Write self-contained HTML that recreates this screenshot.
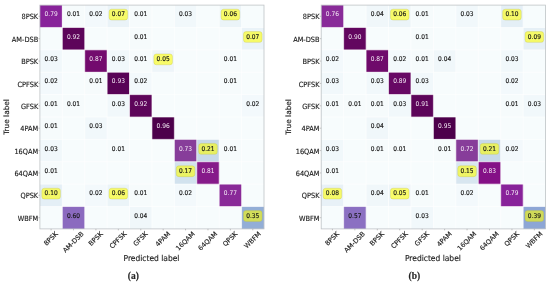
<!DOCTYPE html>
<html><head><meta charset="utf-8"><title>Confusion matrices</title>
<style>html,body{margin:0;padding:0;background:#fff;}body{width:550px;height:284px;overflow:hidden;}svg{display:block;}</style>
</head><body>
<svg width="550" height="284" viewBox="0 0 550 284" font-family="'DejaVu Sans', 'Liberation Sans', sans-serif">
<style>text{stroke-width:0.14px;paint-order:stroke fill}.d{stroke:#1c1c1c}.w{stroke:none}</style>
<rect width="550" height="284" fill="#ffffff"/>
<rect x="39.9" y="5.1" width="224.10" height="223.80" fill="#f7fcfd"/>
<rect x="39.90" y="5.10" width="22.46" height="22.43" fill="#88239a"/>
<rect x="62.31" y="5.10" width="22.46" height="22.43" fill="#f6fbfc"/>
<rect x="84.72" y="5.10" width="22.46" height="22.43" fill="#f3f9fc"/>
<rect x="107.13" y="5.10" width="22.46" height="22.43" fill="#eaf3f8"/>
<rect x="129.54" y="5.10" width="22.46" height="22.43" fill="#f6fbfc"/>
<rect x="174.36" y="5.10" width="22.46" height="22.43" fill="#f1f8fb"/>
<rect x="219.18" y="5.10" width="22.46" height="22.43" fill="#ebf4f8"/>
<rect x="62.31" y="27.48" width="22.46" height="22.43" fill="#5d055a"/>
<rect x="129.54" y="27.48" width="22.46" height="22.43" fill="#f6fbfc"/>
<rect x="241.59" y="27.48" width="22.46" height="22.43" fill="#eaf3f8"/>
<rect x="39.90" y="49.86" width="22.46" height="22.43" fill="#f1f8fb"/>
<rect x="84.72" y="49.86" width="22.46" height="22.43" fill="#730b6e"/>
<rect x="107.13" y="49.86" width="22.46" height="22.43" fill="#f1f8fb"/>
<rect x="129.54" y="49.86" width="22.46" height="22.43" fill="#f6fbfc"/>
<rect x="151.95" y="49.86" width="22.46" height="22.43" fill="#eef5f9"/>
<rect x="219.18" y="49.86" width="22.46" height="22.43" fill="#f6fbfc"/>
<rect x="39.90" y="72.24" width="22.46" height="22.43" fill="#f3f9fc"/>
<rect x="84.72" y="72.24" width="22.46" height="22.43" fill="#f6fbfc"/>
<rect x="107.13" y="72.24" width="22.46" height="22.43" fill="#580356"/>
<rect x="129.54" y="72.24" width="22.46" height="22.43" fill="#f3f9fc"/>
<rect x="219.18" y="72.24" width="22.46" height="22.43" fill="#f6fbfc"/>
<rect x="39.90" y="94.62" width="22.46" height="22.43" fill="#f6fbfc"/>
<rect x="62.31" y="94.62" width="22.46" height="22.43" fill="#f6fbfc"/>
<rect x="107.13" y="94.62" width="22.46" height="22.43" fill="#f1f8fb"/>
<rect x="129.54" y="94.62" width="22.46" height="22.43" fill="#5d055a"/>
<rect x="241.59" y="94.62" width="22.46" height="22.43" fill="#f3f9fc"/>
<rect x="39.90" y="117.00" width="22.46" height="22.43" fill="#f6fbfc"/>
<rect x="84.72" y="117.00" width="22.46" height="22.43" fill="#f1f8fb"/>
<rect x="151.95" y="117.00" width="22.46" height="22.43" fill="#4d004b"/>
<rect x="39.90" y="139.38" width="22.46" height="22.43" fill="#f1f8fb"/>
<rect x="107.13" y="139.38" width="22.46" height="22.43" fill="#f6fbfc"/>
<rect x="174.36" y="139.38" width="22.46" height="22.43" fill="#873d9a"/>
<rect x="196.77" y="139.38" width="22.46" height="22.43" fill="#c7d9e9"/>
<rect x="219.18" y="139.38" width="22.46" height="22.43" fill="#f6fbfc"/>
<rect x="39.90" y="161.76" width="22.46" height="22.43" fill="#f6fbfc"/>
<rect x="174.36" y="161.76" width="22.46" height="22.43" fill="#d2e2ee"/>
<rect x="196.77" y="161.76" width="22.46" height="22.43" fill="#861a8a"/>
<rect x="39.90" y="184.14" width="22.46" height="22.43" fill="#e4eff6"/>
<rect x="84.72" y="184.14" width="22.46" height="22.43" fill="#f3f9fc"/>
<rect x="107.13" y="184.14" width="22.46" height="22.43" fill="#ebf4f8"/>
<rect x="129.54" y="184.14" width="22.46" height="22.43" fill="#f6fbfc"/>
<rect x="174.36" y="184.14" width="22.46" height="22.43" fill="#f3f9fc"/>
<rect x="219.18" y="184.14" width="22.46" height="22.43" fill="#892a98"/>
<rect x="62.31" y="206.52" width="22.46" height="22.43" fill="#8b6abf"/>
<rect x="129.54" y="206.52" width="22.46" height="22.43" fill="#f0f7fa"/>
<rect x="241.59" y="206.52" width="22.46" height="22.43" fill="#93aed6"/>
<line x1="62.31" x2="62.31" y1="5.1" y2="228.9" stroke="#ffffff" stroke-opacity="0.7" stroke-width="0.9"/>
<line y1="27.48" y2="27.48" x1="39.9" x2="264.0" stroke="#ffffff" stroke-opacity="0.7" stroke-width="0.9"/>
<line x1="84.72" x2="84.72" y1="5.1" y2="228.9" stroke="#ffffff" stroke-opacity="0.7" stroke-width="0.9"/>
<line y1="49.86" y2="49.86" x1="39.9" x2="264.0" stroke="#ffffff" stroke-opacity="0.7" stroke-width="0.9"/>
<line x1="107.13" x2="107.13" y1="5.1" y2="228.9" stroke="#ffffff" stroke-opacity="0.7" stroke-width="0.9"/>
<line y1="72.24" y2="72.24" x1="39.9" x2="264.0" stroke="#ffffff" stroke-opacity="0.7" stroke-width="0.9"/>
<line x1="129.54" x2="129.54" y1="5.1" y2="228.9" stroke="#ffffff" stroke-opacity="0.7" stroke-width="0.9"/>
<line y1="94.62" y2="94.62" x1="39.9" x2="264.0" stroke="#ffffff" stroke-opacity="0.7" stroke-width="0.9"/>
<line x1="151.95" x2="151.95" y1="5.1" y2="228.9" stroke="#ffffff" stroke-opacity="0.7" stroke-width="0.9"/>
<line y1="117.00" y2="117.00" x1="39.9" x2="264.0" stroke="#ffffff" stroke-opacity="0.7" stroke-width="0.9"/>
<line x1="174.36" x2="174.36" y1="5.1" y2="228.9" stroke="#ffffff" stroke-opacity="0.7" stroke-width="0.9"/>
<line y1="139.38" y2="139.38" x1="39.9" x2="264.0" stroke="#ffffff" stroke-opacity="0.7" stroke-width="0.9"/>
<line x1="196.77" x2="196.77" y1="5.1" y2="228.9" stroke="#ffffff" stroke-opacity="0.7" stroke-width="0.9"/>
<line y1="161.76" y2="161.76" x1="39.9" x2="264.0" stroke="#ffffff" stroke-opacity="0.7" stroke-width="0.9"/>
<line x1="219.18" x2="219.18" y1="5.1" y2="228.9" stroke="#ffffff" stroke-opacity="0.7" stroke-width="0.9"/>
<line y1="184.14" y2="184.14" x1="39.9" x2="264.0" stroke="#ffffff" stroke-opacity="0.7" stroke-width="0.9"/>
<line x1="241.59" x2="241.59" y1="5.1" y2="228.9" stroke="#ffffff" stroke-opacity="0.7" stroke-width="0.9"/>
<line y1="206.52" y2="206.52" x1="39.9" x2="264.0" stroke="#ffffff" stroke-opacity="0.7" stroke-width="0.9"/>
<rect x="39.9" y="5.1" width="224.10" height="223.80" fill="none" stroke="#bfc3c6" stroke-width="0.8"/>
<text transform="translate(51.10,16.34) scale(1,1.09)" font-size="5.9" text-anchor="middle" fill="#f6eef7" class="w">0.79</text>
<text transform="translate(73.52,16.34) scale(1,1.09)" font-size="5.9" text-anchor="middle" fill="#141414" class="d">0.01</text>
<text transform="translate(95.92,16.34) scale(1,1.09)" font-size="5.9" text-anchor="middle" fill="#141414" class="d">0.02</text>
<rect x="109.04" y="9.19" width="18.6" height="10.8" rx="2.6" fill="#ffff00" fill-opacity="0.58" stroke="#b9b93c" stroke-opacity="0.55" stroke-width="0.5"/>
<text transform="translate(118.34,16.34) scale(1,1.09)" font-size="5.9" text-anchor="middle" fill="#141414" class="d">0.07</text>
<text transform="translate(140.75,16.34) scale(1,1.09)" font-size="5.9" text-anchor="middle" fill="#141414" class="d">0.01</text>
<text transform="translate(185.56,16.34) scale(1,1.09)" font-size="5.9" text-anchor="middle" fill="#141414" class="d">0.03</text>
<rect x="221.09" y="9.19" width="18.6" height="10.8" rx="2.6" fill="#ffff00" fill-opacity="0.58" stroke="#b9b93c" stroke-opacity="0.55" stroke-width="0.5"/>
<text transform="translate(230.39,16.34) scale(1,1.09)" font-size="5.9" text-anchor="middle" fill="#141414" class="d">0.06</text>
<text transform="translate(73.52,38.72) scale(1,1.09)" font-size="5.9" text-anchor="middle" fill="#f6eef7" class="w">0.92</text>
<text transform="translate(140.75,38.72) scale(1,1.09)" font-size="5.9" text-anchor="middle" fill="#141414" class="d">0.01</text>
<rect x="243.50" y="31.57" width="18.6" height="10.8" rx="2.6" fill="#ffff00" fill-opacity="0.58" stroke="#b9b93c" stroke-opacity="0.55" stroke-width="0.5"/>
<text transform="translate(252.80,38.72) scale(1,1.09)" font-size="5.9" text-anchor="middle" fill="#141414" class="d">0.07</text>
<text transform="translate(51.10,61.10) scale(1,1.09)" font-size="5.9" text-anchor="middle" fill="#141414" class="d">0.03</text>
<text transform="translate(95.92,61.10) scale(1,1.09)" font-size="5.9" text-anchor="middle" fill="#f6eef7" class="w">0.87</text>
<text transform="translate(118.34,61.10) scale(1,1.09)" font-size="5.9" text-anchor="middle" fill="#141414" class="d">0.03</text>
<text transform="translate(140.75,61.10) scale(1,1.09)" font-size="5.9" text-anchor="middle" fill="#141414" class="d">0.01</text>
<rect x="153.85" y="53.95" width="18.6" height="10.8" rx="2.6" fill="#ffff00" fill-opacity="0.58" stroke="#b9b93c" stroke-opacity="0.55" stroke-width="0.5"/>
<text transform="translate(163.16,61.10) scale(1,1.09)" font-size="5.9" text-anchor="middle" fill="#141414" class="d">0.05</text>
<text transform="translate(230.39,61.10) scale(1,1.09)" font-size="5.9" text-anchor="middle" fill="#141414" class="d">0.01</text>
<text transform="translate(51.10,83.48) scale(1,1.09)" font-size="5.9" text-anchor="middle" fill="#141414" class="d">0.02</text>
<text transform="translate(95.92,83.48) scale(1,1.09)" font-size="5.9" text-anchor="middle" fill="#141414" class="d">0.01</text>
<text transform="translate(118.34,83.48) scale(1,1.09)" font-size="5.9" text-anchor="middle" fill="#f6eef7" class="w">0.93</text>
<text transform="translate(140.75,83.48) scale(1,1.09)" font-size="5.9" text-anchor="middle" fill="#141414" class="d">0.02</text>
<text transform="translate(230.39,83.48) scale(1,1.09)" font-size="5.9" text-anchor="middle" fill="#141414" class="d">0.01</text>
<text transform="translate(51.10,105.86) scale(1,1.09)" font-size="5.9" text-anchor="middle" fill="#141414" class="d">0.01</text>
<text transform="translate(73.52,105.86) scale(1,1.09)" font-size="5.9" text-anchor="middle" fill="#141414" class="d">0.01</text>
<text transform="translate(118.34,105.86) scale(1,1.09)" font-size="5.9" text-anchor="middle" fill="#141414" class="d">0.03</text>
<text transform="translate(140.75,105.86) scale(1,1.09)" font-size="5.9" text-anchor="middle" fill="#f6eef7" class="w">0.92</text>
<text transform="translate(252.80,105.86) scale(1,1.09)" font-size="5.9" text-anchor="middle" fill="#141414" class="d">0.02</text>
<text transform="translate(51.10,128.24) scale(1,1.09)" font-size="5.9" text-anchor="middle" fill="#141414" class="d">0.01</text>
<text transform="translate(95.92,128.24) scale(1,1.09)" font-size="5.9" text-anchor="middle" fill="#141414" class="d">0.03</text>
<text transform="translate(163.16,128.24) scale(1,1.09)" font-size="5.9" text-anchor="middle" fill="#f6eef7" class="w">0.96</text>
<text transform="translate(51.10,150.62) scale(1,1.09)" font-size="5.9" text-anchor="middle" fill="#141414" class="d">0.03</text>
<text transform="translate(118.34,150.62) scale(1,1.09)" font-size="5.9" text-anchor="middle" fill="#141414" class="d">0.01</text>
<text transform="translate(185.56,150.62) scale(1,1.09)" font-size="5.9" text-anchor="middle" fill="#f6eef7" class="w">0.73</text>
<rect x="198.67" y="143.47" width="18.6" height="10.8" rx="2.6" fill="#ffff00" fill-opacity="0.58" stroke="#b9b93c" stroke-opacity="0.55" stroke-width="0.5"/>
<text transform="translate(207.97,150.62) scale(1,1.09)" font-size="5.9" text-anchor="middle" fill="#141414" class="d">0.21</text>
<text transform="translate(230.39,150.62) scale(1,1.09)" font-size="5.9" text-anchor="middle" fill="#141414" class="d">0.01</text>
<text transform="translate(51.10,173.00) scale(1,1.09)" font-size="5.9" text-anchor="middle" fill="#141414" class="d">0.01</text>
<rect x="176.26" y="165.85" width="18.6" height="10.8" rx="2.6" fill="#ffff00" fill-opacity="0.58" stroke="#b9b93c" stroke-opacity="0.55" stroke-width="0.5"/>
<text transform="translate(185.56,173.00) scale(1,1.09)" font-size="5.9" text-anchor="middle" fill="#141414" class="d">0.17</text>
<text transform="translate(207.97,173.00) scale(1,1.09)" font-size="5.9" text-anchor="middle" fill="#f6eef7" class="w">0.81</text>
<rect x="41.80" y="188.23" width="18.6" height="10.8" rx="2.6" fill="#ffff00" fill-opacity="0.58" stroke="#b9b93c" stroke-opacity="0.55" stroke-width="0.5"/>
<text transform="translate(51.10,195.38) scale(1,1.09)" font-size="5.9" text-anchor="middle" fill="#141414" class="d">0.10</text>
<text transform="translate(95.92,195.38) scale(1,1.09)" font-size="5.9" text-anchor="middle" fill="#141414" class="d">0.02</text>
<rect x="109.04" y="188.23" width="18.6" height="10.8" rx="2.6" fill="#ffff00" fill-opacity="0.58" stroke="#b9b93c" stroke-opacity="0.55" stroke-width="0.5"/>
<text transform="translate(118.34,195.38) scale(1,1.09)" font-size="5.9" text-anchor="middle" fill="#141414" class="d">0.06</text>
<text transform="translate(140.75,195.38) scale(1,1.09)" font-size="5.9" text-anchor="middle" fill="#141414" class="d">0.01</text>
<text transform="translate(185.56,195.38) scale(1,1.09)" font-size="5.9" text-anchor="middle" fill="#141414" class="d">0.02</text>
<text transform="translate(230.39,195.38) scale(1,1.09)" font-size="5.9" text-anchor="middle" fill="#f6eef7" class="w">0.77</text>
<text transform="translate(73.52,217.76) scale(1,1.09)" font-size="5.9" text-anchor="middle" fill="#141414" class="d">0.60</text>
<text transform="translate(140.75,217.76) scale(1,1.09)" font-size="5.9" text-anchor="middle" fill="#141414" class="d">0.04</text>
<rect x="243.50" y="210.61" width="18.6" height="10.8" rx="2.6" fill="#ffff00" fill-opacity="0.58" stroke="#b9b93c" stroke-opacity="0.55" stroke-width="0.5"/>
<text transform="translate(252.80,217.76) scale(1,1.09)" font-size="5.9" text-anchor="middle" fill="#141414" class="d">0.35</text>
<line x1="38.40" x2="39.90" y1="16.29" y2="16.29" stroke="#777" stroke-width="0.4"/>
<text transform="translate(38.20,19.42) scale(1,1.09)" font-size="6.6" text-anchor="end" fill="#1c1c1c" class="d">8PSK</text>
<line x1="38.40" x2="39.90" y1="38.67" y2="38.67" stroke="#777" stroke-width="0.4"/>
<text transform="translate(38.20,41.80) scale(1,1.09)" font-size="6.6" text-anchor="end" fill="#1c1c1c" class="d">AM-DSB</text>
<line x1="38.40" x2="39.90" y1="61.05" y2="61.05" stroke="#777" stroke-width="0.4"/>
<text transform="translate(38.20,64.18) scale(1,1.09)" font-size="6.6" text-anchor="end" fill="#1c1c1c" class="d">BPSK</text>
<line x1="38.40" x2="39.90" y1="83.43" y2="83.43" stroke="#777" stroke-width="0.4"/>
<text transform="translate(38.20,86.56) scale(1,1.09)" font-size="6.6" text-anchor="end" fill="#1c1c1c" class="d">CPFSK</text>
<line x1="38.40" x2="39.90" y1="105.81" y2="105.81" stroke="#777" stroke-width="0.4"/>
<text transform="translate(38.20,108.94) scale(1,1.09)" font-size="6.6" text-anchor="end" fill="#1c1c1c" class="d">GFSK</text>
<line x1="38.40" x2="39.90" y1="128.19" y2="128.19" stroke="#777" stroke-width="0.4"/>
<text transform="translate(38.20,131.32) scale(1,1.09)" font-size="6.6" text-anchor="end" fill="#1c1c1c" class="d">4PAM</text>
<line x1="38.40" x2="39.90" y1="150.57" y2="150.57" stroke="#777" stroke-width="0.4"/>
<text transform="translate(38.20,153.70) scale(1,1.09)" font-size="6.6" text-anchor="end" fill="#1c1c1c" class="d">16QAM</text>
<line x1="38.40" x2="39.90" y1="172.95" y2="172.95" stroke="#777" stroke-width="0.4"/>
<text transform="translate(38.20,176.08) scale(1,1.09)" font-size="6.6" text-anchor="end" fill="#1c1c1c" class="d">64QAM</text>
<line x1="38.40" x2="39.90" y1="195.33" y2="195.33" stroke="#777" stroke-width="0.4"/>
<text transform="translate(38.20,198.46) scale(1,1.09)" font-size="6.6" text-anchor="end" fill="#1c1c1c" class="d">QPSK</text>
<line x1="38.40" x2="39.90" y1="217.71" y2="217.71" stroke="#777" stroke-width="0.4"/>
<text transform="translate(38.20,220.84) scale(1,1.09)" font-size="6.6" text-anchor="end" fill="#1c1c1c" class="d">WBFM</text>
<line x1="51.10" x2="51.10" y1="228.9" y2="230.4" stroke="#777" stroke-width="0.4"/>
<text transform="translate(51.10,238.86) rotate(-45)" x="0" y="1.82" font-size="6.6" text-anchor="middle" fill="#1c1c1c" class="d">8PSK</text>
<line x1="73.52" x2="73.52" y1="228.9" y2="230.4" stroke="#777" stroke-width="0.4"/>
<text transform="translate(73.52,242.29) rotate(-45)" x="0" y="1.82" font-size="6.6" text-anchor="middle" fill="#1c1c1c" class="d">AM-DSB</text>
<line x1="95.92" x2="95.92" y1="228.9" y2="230.4" stroke="#777" stroke-width="0.4"/>
<text transform="translate(95.92,238.98) rotate(-45)" x="0" y="1.82" font-size="6.6" text-anchor="middle" fill="#1c1c1c" class="d">BPSK</text>
<line x1="118.34" x2="118.34" y1="228.9" y2="230.4" stroke="#777" stroke-width="0.4"/>
<text transform="translate(118.34,240.31) rotate(-45)" x="0" y="1.82" font-size="6.6" text-anchor="middle" fill="#1c1c1c" class="d">CPFSK</text>
<line x1="140.75" x2="140.75" y1="228.9" y2="230.4" stroke="#777" stroke-width="0.4"/>
<text transform="translate(140.75,239.08) rotate(-45)" x="0" y="1.82" font-size="6.6" text-anchor="middle" fill="#1c1c1c" class="d">GFSK</text>
<line x1="163.16" x2="163.16" y1="228.9" y2="230.4" stroke="#777" stroke-width="0.4"/>
<text transform="translate(163.16,239.31) rotate(-45)" x="0" y="1.82" font-size="6.6" text-anchor="middle" fill="#1c1c1c" class="d">4PAM</text>
<line x1="185.56" x2="185.56" y1="228.9" y2="230.4" stroke="#777" stroke-width="0.4"/>
<text transform="translate(185.56,241.37) rotate(-45)" x="0" y="1.82" font-size="6.6" text-anchor="middle" fill="#1c1c1c" class="d">16QAM</text>
<line x1="207.97" x2="207.97" y1="228.9" y2="230.4" stroke="#777" stroke-width="0.4"/>
<text transform="translate(207.97,241.37) rotate(-45)" x="0" y="1.82" font-size="6.6" text-anchor="middle" fill="#1c1c1c" class="d">64QAM</text>
<line x1="230.39" x2="230.39" y1="228.9" y2="230.4" stroke="#777" stroke-width="0.4"/>
<text transform="translate(230.39,239.21) rotate(-45)" x="0" y="1.82" font-size="6.6" text-anchor="middle" fill="#1c1c1c" class="d">QPSK</text>
<line x1="252.80" x2="252.80" y1="228.9" y2="230.4" stroke="#777" stroke-width="0.4"/>
<text transform="translate(252.80,240.22) rotate(-45)" x="0" y="1.82" font-size="6.6" text-anchor="middle" fill="#1c1c1c" class="d">WBFM</text>
<text transform="translate(151.45,261.0) scale(1,1.09)" font-size="7.55" text-anchor="middle" fill="#1c1c1c" class="d">Predicted label</text>
<text transform="translate(9.30,117.00) rotate(-90)" font-size="7.35" text-anchor="middle" fill="#1c1c1c" class="d">True label</text>
<text x="133.3" y="278.9" font-size="9.5" font-weight="bold" text-anchor="middle" fill="#222" class="d" font-family="'Liberation Serif', serif">(a)</text>
<rect x="321.2" y="5.1" width="224.40" height="223.80" fill="#f7fcfd"/>
<rect x="321.20" y="5.10" width="22.49" height="22.43" fill="#892b99"/>
<rect x="366.08" y="5.10" width="22.49" height="22.43" fill="#f0f7fa"/>
<rect x="388.52" y="5.10" width="22.49" height="22.43" fill="#ebf4f8"/>
<rect x="410.96" y="5.10" width="22.49" height="22.43" fill="#f6fbfc"/>
<rect x="455.84" y="5.10" width="22.49" height="22.43" fill="#f1f8fb"/>
<rect x="500.72" y="5.10" width="22.49" height="22.43" fill="#e4eff6"/>
<rect x="343.64" y="27.48" width="22.49" height="22.43" fill="#62065f"/>
<rect x="410.96" y="27.48" width="22.49" height="22.43" fill="#f6fbfc"/>
<rect x="523.16" y="27.48" width="22.49" height="22.43" fill="#e6f0f6"/>
<rect x="321.20" y="49.86" width="22.49" height="22.43" fill="#f3f9fc"/>
<rect x="366.08" y="49.86" width="22.49" height="22.43" fill="#6f0a6b"/>
<rect x="388.52" y="49.86" width="22.49" height="22.43" fill="#f3f9fc"/>
<rect x="410.96" y="49.86" width="22.49" height="22.43" fill="#f6fbfc"/>
<rect x="433.40" y="49.86" width="22.49" height="22.43" fill="#f0f7fa"/>
<rect x="500.72" y="49.86" width="22.49" height="22.43" fill="#f1f8fb"/>
<rect x="321.20" y="72.24" width="22.49" height="22.43" fill="#f1f8fb"/>
<rect x="366.08" y="72.24" width="22.49" height="22.43" fill="#f1f8fb"/>
<rect x="388.52" y="72.24" width="22.49" height="22.43" fill="#670864"/>
<rect x="410.96" y="72.24" width="22.49" height="22.43" fill="#f1f8fb"/>
<rect x="500.72" y="72.24" width="22.49" height="22.43" fill="#f3f9fc"/>
<rect x="321.20" y="94.62" width="22.49" height="22.43" fill="#f6fbfc"/>
<rect x="343.64" y="94.62" width="22.49" height="22.43" fill="#f6fbfc"/>
<rect x="366.08" y="94.62" width="22.49" height="22.43" fill="#f6fbfc"/>
<rect x="388.52" y="94.62" width="22.49" height="22.43" fill="#f1f8fb"/>
<rect x="410.96" y="94.62" width="22.49" height="22.43" fill="#5d055a"/>
<rect x="500.72" y="94.62" width="22.49" height="22.43" fill="#f6fbfc"/>
<rect x="523.16" y="94.62" width="22.49" height="22.43" fill="#f1f8fb"/>
<rect x="366.08" y="117.00" width="22.49" height="22.43" fill="#f0f7fa"/>
<rect x="433.40" y="117.00" width="22.49" height="22.43" fill="#4d004b"/>
<rect x="321.20" y="139.38" width="22.49" height="22.43" fill="#f1f8fb"/>
<rect x="366.08" y="139.38" width="22.49" height="22.43" fill="#f6fbfc"/>
<rect x="388.52" y="139.38" width="22.49" height="22.43" fill="#f6fbfc"/>
<rect x="433.40" y="139.38" width="22.49" height="22.43" fill="#f6fbfc"/>
<rect x="455.84" y="139.38" width="22.49" height="22.43" fill="#873d9a"/>
<rect x="478.28" y="139.38" width="22.49" height="22.43" fill="#c7d9e9"/>
<rect x="500.72" y="139.38" width="22.49" height="22.43" fill="#f3f9fc"/>
<rect x="321.20" y="161.76" width="22.49" height="22.43" fill="#f6fbfc"/>
<rect x="455.84" y="161.76" width="22.49" height="22.43" fill="#d8e6f0"/>
<rect x="478.28" y="161.76" width="22.49" height="22.43" fill="#841086"/>
<rect x="321.20" y="184.14" width="22.49" height="22.43" fill="#e8f1f7"/>
<rect x="366.08" y="184.14" width="22.49" height="22.43" fill="#f0f7fa"/>
<rect x="388.52" y="184.14" width="22.49" height="22.43" fill="#eef5f9"/>
<rect x="410.96" y="184.14" width="22.49" height="22.43" fill="#f6fbfc"/>
<rect x="455.84" y="184.14" width="22.49" height="22.43" fill="#f3f9fc"/>
<rect x="500.72" y="184.14" width="22.49" height="22.43" fill="#88239a"/>
<rect x="343.64" y="206.52" width="22.49" height="22.43" fill="#8b70c2"/>
<rect x="410.96" y="206.52" width="22.49" height="22.43" fill="#f1f8fb"/>
<rect x="523.16" y="206.52" width="22.49" height="22.43" fill="#8da6d5"/>
<line x1="343.64" x2="343.64" y1="5.1" y2="228.9" stroke="#ffffff" stroke-opacity="0.7" stroke-width="0.9"/>
<line y1="27.48" y2="27.48" x1="321.2" x2="545.6" stroke="#ffffff" stroke-opacity="0.7" stroke-width="0.9"/>
<line x1="366.08" x2="366.08" y1="5.1" y2="228.9" stroke="#ffffff" stroke-opacity="0.7" stroke-width="0.9"/>
<line y1="49.86" y2="49.86" x1="321.2" x2="545.6" stroke="#ffffff" stroke-opacity="0.7" stroke-width="0.9"/>
<line x1="388.52" x2="388.52" y1="5.1" y2="228.9" stroke="#ffffff" stroke-opacity="0.7" stroke-width="0.9"/>
<line y1="72.24" y2="72.24" x1="321.2" x2="545.6" stroke="#ffffff" stroke-opacity="0.7" stroke-width="0.9"/>
<line x1="410.96" x2="410.96" y1="5.1" y2="228.9" stroke="#ffffff" stroke-opacity="0.7" stroke-width="0.9"/>
<line y1="94.62" y2="94.62" x1="321.2" x2="545.6" stroke="#ffffff" stroke-opacity="0.7" stroke-width="0.9"/>
<line x1="433.40" x2="433.40" y1="5.1" y2="228.9" stroke="#ffffff" stroke-opacity="0.7" stroke-width="0.9"/>
<line y1="117.00" y2="117.00" x1="321.2" x2="545.6" stroke="#ffffff" stroke-opacity="0.7" stroke-width="0.9"/>
<line x1="455.84" x2="455.84" y1="5.1" y2="228.9" stroke="#ffffff" stroke-opacity="0.7" stroke-width="0.9"/>
<line y1="139.38" y2="139.38" x1="321.2" x2="545.6" stroke="#ffffff" stroke-opacity="0.7" stroke-width="0.9"/>
<line x1="478.28" x2="478.28" y1="5.1" y2="228.9" stroke="#ffffff" stroke-opacity="0.7" stroke-width="0.9"/>
<line y1="161.76" y2="161.76" x1="321.2" x2="545.6" stroke="#ffffff" stroke-opacity="0.7" stroke-width="0.9"/>
<line x1="500.72" x2="500.72" y1="5.1" y2="228.9" stroke="#ffffff" stroke-opacity="0.7" stroke-width="0.9"/>
<line y1="184.14" y2="184.14" x1="321.2" x2="545.6" stroke="#ffffff" stroke-opacity="0.7" stroke-width="0.9"/>
<line x1="523.16" x2="523.16" y1="5.1" y2="228.9" stroke="#ffffff" stroke-opacity="0.7" stroke-width="0.9"/>
<line y1="206.52" y2="206.52" x1="321.2" x2="545.6" stroke="#ffffff" stroke-opacity="0.7" stroke-width="0.9"/>
<rect x="321.2" y="5.1" width="224.40" height="223.80" fill="none" stroke="#bfc3c6" stroke-width="0.8"/>
<text transform="translate(332.42,16.34) scale(1,1.09)" font-size="5.9" text-anchor="middle" fill="#f6eef7" class="w">0.76</text>
<text transform="translate(377.30,16.34) scale(1,1.09)" font-size="5.9" text-anchor="middle" fill="#141414" class="d">0.04</text>
<rect x="390.44" y="9.19" width="18.6" height="10.8" rx="2.6" fill="#ffff00" fill-opacity="0.58" stroke="#b9b93c" stroke-opacity="0.55" stroke-width="0.5"/>
<text transform="translate(399.74,16.34) scale(1,1.09)" font-size="5.9" text-anchor="middle" fill="#141414" class="d">0.06</text>
<text transform="translate(422.18,16.34) scale(1,1.09)" font-size="5.9" text-anchor="middle" fill="#141414" class="d">0.01</text>
<text transform="translate(467.06,16.34) scale(1,1.09)" font-size="5.9" text-anchor="middle" fill="#141414" class="d">0.03</text>
<rect x="502.64" y="9.19" width="18.6" height="10.8" rx="2.6" fill="#ffff00" fill-opacity="0.58" stroke="#b9b93c" stroke-opacity="0.55" stroke-width="0.5"/>
<text transform="translate(511.94,16.34) scale(1,1.09)" font-size="5.9" text-anchor="middle" fill="#141414" class="d">0.10</text>
<text transform="translate(354.86,38.72) scale(1,1.09)" font-size="5.9" text-anchor="middle" fill="#f6eef7" class="w">0.90</text>
<text transform="translate(422.18,38.72) scale(1,1.09)" font-size="5.9" text-anchor="middle" fill="#141414" class="d">0.01</text>
<rect x="525.08" y="31.57" width="18.6" height="10.8" rx="2.6" fill="#ffff00" fill-opacity="0.58" stroke="#b9b93c" stroke-opacity="0.55" stroke-width="0.5"/>
<text transform="translate(534.38,38.72) scale(1,1.09)" font-size="5.9" text-anchor="middle" fill="#141414" class="d">0.09</text>
<text transform="translate(332.42,61.10) scale(1,1.09)" font-size="5.9" text-anchor="middle" fill="#141414" class="d">0.02</text>
<text transform="translate(377.30,61.10) scale(1,1.09)" font-size="5.9" text-anchor="middle" fill="#f6eef7" class="w">0.87</text>
<text transform="translate(399.74,61.10) scale(1,1.09)" font-size="5.9" text-anchor="middle" fill="#141414" class="d">0.02</text>
<text transform="translate(422.18,61.10) scale(1,1.09)" font-size="5.9" text-anchor="middle" fill="#141414" class="d">0.01</text>
<text transform="translate(444.62,61.10) scale(1,1.09)" font-size="5.9" text-anchor="middle" fill="#141414" class="d">0.04</text>
<text transform="translate(511.94,61.10) scale(1,1.09)" font-size="5.9" text-anchor="middle" fill="#141414" class="d">0.03</text>
<text transform="translate(332.42,83.48) scale(1,1.09)" font-size="5.9" text-anchor="middle" fill="#141414" class="d">0.03</text>
<text transform="translate(377.30,83.48) scale(1,1.09)" font-size="5.9" text-anchor="middle" fill="#141414" class="d">0.03</text>
<text transform="translate(399.74,83.48) scale(1,1.09)" font-size="5.9" text-anchor="middle" fill="#f6eef7" class="w">0.89</text>
<text transform="translate(422.18,83.48) scale(1,1.09)" font-size="5.9" text-anchor="middle" fill="#141414" class="d">0.03</text>
<text transform="translate(511.94,83.48) scale(1,1.09)" font-size="5.9" text-anchor="middle" fill="#141414" class="d">0.02</text>
<text transform="translate(332.42,105.86) scale(1,1.09)" font-size="5.9" text-anchor="middle" fill="#141414" class="d">0.01</text>
<text transform="translate(354.86,105.86) scale(1,1.09)" font-size="5.9" text-anchor="middle" fill="#141414" class="d">0.01</text>
<text transform="translate(377.30,105.86) scale(1,1.09)" font-size="5.9" text-anchor="middle" fill="#141414" class="d">0.01</text>
<text transform="translate(399.74,105.86) scale(1,1.09)" font-size="5.9" text-anchor="middle" fill="#141414" class="d">0.03</text>
<text transform="translate(422.18,105.86) scale(1,1.09)" font-size="5.9" text-anchor="middle" fill="#f6eef7" class="w">0.91</text>
<text transform="translate(511.94,105.86) scale(1,1.09)" font-size="5.9" text-anchor="middle" fill="#141414" class="d">0.01</text>
<text transform="translate(534.38,105.86) scale(1,1.09)" font-size="5.9" text-anchor="middle" fill="#141414" class="d">0.03</text>
<text transform="translate(377.30,128.24) scale(1,1.09)" font-size="5.9" text-anchor="middle" fill="#141414" class="d">0.04</text>
<text transform="translate(444.62,128.24) scale(1,1.09)" font-size="5.9" text-anchor="middle" fill="#f6eef7" class="w">0.95</text>
<text transform="translate(332.42,150.62) scale(1,1.09)" font-size="5.9" text-anchor="middle" fill="#141414" class="d">0.03</text>
<text transform="translate(377.30,150.62) scale(1,1.09)" font-size="5.9" text-anchor="middle" fill="#141414" class="d">0.01</text>
<text transform="translate(399.74,150.62) scale(1,1.09)" font-size="5.9" text-anchor="middle" fill="#141414" class="d">0.01</text>
<text transform="translate(444.62,150.62) scale(1,1.09)" font-size="5.9" text-anchor="middle" fill="#141414" class="d">0.01</text>
<text transform="translate(467.06,150.62) scale(1,1.09)" font-size="5.9" text-anchor="middle" fill="#f6eef7" class="w">0.72</text>
<rect x="480.20" y="143.47" width="18.6" height="10.8" rx="2.6" fill="#ffff00" fill-opacity="0.58" stroke="#b9b93c" stroke-opacity="0.55" stroke-width="0.5"/>
<text transform="translate(489.50,150.62) scale(1,1.09)" font-size="5.9" text-anchor="middle" fill="#141414" class="d">0.21</text>
<text transform="translate(511.94,150.62) scale(1,1.09)" font-size="5.9" text-anchor="middle" fill="#141414" class="d">0.02</text>
<text transform="translate(332.42,173.00) scale(1,1.09)" font-size="5.9" text-anchor="middle" fill="#141414" class="d">0.01</text>
<rect x="457.76" y="165.85" width="18.6" height="10.8" rx="2.6" fill="#ffff00" fill-opacity="0.58" stroke="#b9b93c" stroke-opacity="0.55" stroke-width="0.5"/>
<text transform="translate(467.06,173.00) scale(1,1.09)" font-size="5.9" text-anchor="middle" fill="#141414" class="d">0.15</text>
<text transform="translate(489.50,173.00) scale(1,1.09)" font-size="5.9" text-anchor="middle" fill="#f6eef7" class="w">0.83</text>
<rect x="323.12" y="188.23" width="18.6" height="10.8" rx="2.6" fill="#ffff00" fill-opacity="0.58" stroke="#b9b93c" stroke-opacity="0.55" stroke-width="0.5"/>
<text transform="translate(332.42,195.38) scale(1,1.09)" font-size="5.9" text-anchor="middle" fill="#141414" class="d">0.08</text>
<text transform="translate(377.30,195.38) scale(1,1.09)" font-size="5.9" text-anchor="middle" fill="#141414" class="d">0.04</text>
<rect x="390.44" y="188.23" width="18.6" height="10.8" rx="2.6" fill="#ffff00" fill-opacity="0.58" stroke="#b9b93c" stroke-opacity="0.55" stroke-width="0.5"/>
<text transform="translate(399.74,195.38) scale(1,1.09)" font-size="5.9" text-anchor="middle" fill="#141414" class="d">0.05</text>
<text transform="translate(422.18,195.38) scale(1,1.09)" font-size="5.9" text-anchor="middle" fill="#141414" class="d">0.01</text>
<text transform="translate(467.06,195.38) scale(1,1.09)" font-size="5.9" text-anchor="middle" fill="#141414" class="d">0.02</text>
<text transform="translate(511.94,195.38) scale(1,1.09)" font-size="5.9" text-anchor="middle" fill="#f6eef7" class="w">0.79</text>
<text transform="translate(354.86,217.76) scale(1,1.09)" font-size="5.9" text-anchor="middle" fill="#141414" class="d">0.57</text>
<text transform="translate(422.18,217.76) scale(1,1.09)" font-size="5.9" text-anchor="middle" fill="#141414" class="d">0.03</text>
<rect x="525.08" y="210.61" width="18.6" height="10.8" rx="2.6" fill="#ffff00" fill-opacity="0.58" stroke="#b9b93c" stroke-opacity="0.55" stroke-width="0.5"/>
<text transform="translate(534.38,217.76) scale(1,1.09)" font-size="5.9" text-anchor="middle" fill="#141414" class="d">0.39</text>
<line x1="319.70" x2="321.20" y1="16.29" y2="16.29" stroke="#777" stroke-width="0.4"/>
<text transform="translate(319.50,19.42) scale(1,1.09)" font-size="6.6" text-anchor="end" fill="#1c1c1c" class="d">8PSK</text>
<line x1="319.70" x2="321.20" y1="38.67" y2="38.67" stroke="#777" stroke-width="0.4"/>
<text transform="translate(319.50,41.80) scale(1,1.09)" font-size="6.6" text-anchor="end" fill="#1c1c1c" class="d">AM-DSB</text>
<line x1="319.70" x2="321.20" y1="61.05" y2="61.05" stroke="#777" stroke-width="0.4"/>
<text transform="translate(319.50,64.18) scale(1,1.09)" font-size="6.6" text-anchor="end" fill="#1c1c1c" class="d">BPSK</text>
<line x1="319.70" x2="321.20" y1="83.43" y2="83.43" stroke="#777" stroke-width="0.4"/>
<text transform="translate(319.50,86.56) scale(1,1.09)" font-size="6.6" text-anchor="end" fill="#1c1c1c" class="d">CPFSK</text>
<line x1="319.70" x2="321.20" y1="105.81" y2="105.81" stroke="#777" stroke-width="0.4"/>
<text transform="translate(319.50,108.94) scale(1,1.09)" font-size="6.6" text-anchor="end" fill="#1c1c1c" class="d">GFSK</text>
<line x1="319.70" x2="321.20" y1="128.19" y2="128.19" stroke="#777" stroke-width="0.4"/>
<text transform="translate(319.50,131.32) scale(1,1.09)" font-size="6.6" text-anchor="end" fill="#1c1c1c" class="d">4PAM</text>
<line x1="319.70" x2="321.20" y1="150.57" y2="150.57" stroke="#777" stroke-width="0.4"/>
<text transform="translate(319.50,153.70) scale(1,1.09)" font-size="6.6" text-anchor="end" fill="#1c1c1c" class="d">16QAM</text>
<line x1="319.70" x2="321.20" y1="172.95" y2="172.95" stroke="#777" stroke-width="0.4"/>
<text transform="translate(319.50,176.08) scale(1,1.09)" font-size="6.6" text-anchor="end" fill="#1c1c1c" class="d">64QAM</text>
<line x1="319.70" x2="321.20" y1="195.33" y2="195.33" stroke="#777" stroke-width="0.4"/>
<text transform="translate(319.50,198.46) scale(1,1.09)" font-size="6.6" text-anchor="end" fill="#1c1c1c" class="d">QPSK</text>
<line x1="319.70" x2="321.20" y1="217.71" y2="217.71" stroke="#777" stroke-width="0.4"/>
<text transform="translate(319.50,220.84) scale(1,1.09)" font-size="6.6" text-anchor="end" fill="#1c1c1c" class="d">WBFM</text>
<line x1="332.42" x2="332.42" y1="228.9" y2="230.4" stroke="#777" stroke-width="0.4"/>
<text transform="translate(332.42,238.86) rotate(-45)" x="0" y="1.82" font-size="6.6" text-anchor="middle" fill="#1c1c1c" class="d">8PSK</text>
<line x1="354.86" x2="354.86" y1="228.9" y2="230.4" stroke="#777" stroke-width="0.4"/>
<text transform="translate(354.86,242.29) rotate(-45)" x="0" y="1.82" font-size="6.6" text-anchor="middle" fill="#1c1c1c" class="d">AM-DSB</text>
<line x1="377.30" x2="377.30" y1="228.9" y2="230.4" stroke="#777" stroke-width="0.4"/>
<text transform="translate(377.30,238.98) rotate(-45)" x="0" y="1.82" font-size="6.6" text-anchor="middle" fill="#1c1c1c" class="d">BPSK</text>
<line x1="399.74" x2="399.74" y1="228.9" y2="230.4" stroke="#777" stroke-width="0.4"/>
<text transform="translate(399.74,240.31) rotate(-45)" x="0" y="1.82" font-size="6.6" text-anchor="middle" fill="#1c1c1c" class="d">CPFSK</text>
<line x1="422.18" x2="422.18" y1="228.9" y2="230.4" stroke="#777" stroke-width="0.4"/>
<text transform="translate(422.18,239.08) rotate(-45)" x="0" y="1.82" font-size="6.6" text-anchor="middle" fill="#1c1c1c" class="d">GFSK</text>
<line x1="444.62" x2="444.62" y1="228.9" y2="230.4" stroke="#777" stroke-width="0.4"/>
<text transform="translate(444.62,239.31) rotate(-45)" x="0" y="1.82" font-size="6.6" text-anchor="middle" fill="#1c1c1c" class="d">4PAM</text>
<line x1="467.06" x2="467.06" y1="228.9" y2="230.4" stroke="#777" stroke-width="0.4"/>
<text transform="translate(467.06,241.37) rotate(-45)" x="0" y="1.82" font-size="6.6" text-anchor="middle" fill="#1c1c1c" class="d">16QAM</text>
<line x1="489.50" x2="489.50" y1="228.9" y2="230.4" stroke="#777" stroke-width="0.4"/>
<text transform="translate(489.50,241.37) rotate(-45)" x="0" y="1.82" font-size="6.6" text-anchor="middle" fill="#1c1c1c" class="d">64QAM</text>
<line x1="511.94" x2="511.94" y1="228.9" y2="230.4" stroke="#777" stroke-width="0.4"/>
<text transform="translate(511.94,239.21) rotate(-45)" x="0" y="1.82" font-size="6.6" text-anchor="middle" fill="#1c1c1c" class="d">QPSK</text>
<line x1="534.38" x2="534.38" y1="228.9" y2="230.4" stroke="#777" stroke-width="0.4"/>
<text transform="translate(534.38,240.22) rotate(-45)" x="0" y="1.82" font-size="6.6" text-anchor="middle" fill="#1c1c1c" class="d">WBFM</text>
<text transform="translate(432.90,261.0) scale(1,1.09)" font-size="7.55" text-anchor="middle" fill="#1c1c1c" class="d">Predicted label</text>
<text transform="translate(290.60,117.00) rotate(-90)" font-size="7.35" text-anchor="middle" fill="#1c1c1c" class="d">True label</text>
<text x="414.4" y="278.9" font-size="9.5" font-weight="bold" text-anchor="middle" fill="#222" class="d" font-family="'Liberation Serif', serif">(b)</text>
</svg>
</body></html>
